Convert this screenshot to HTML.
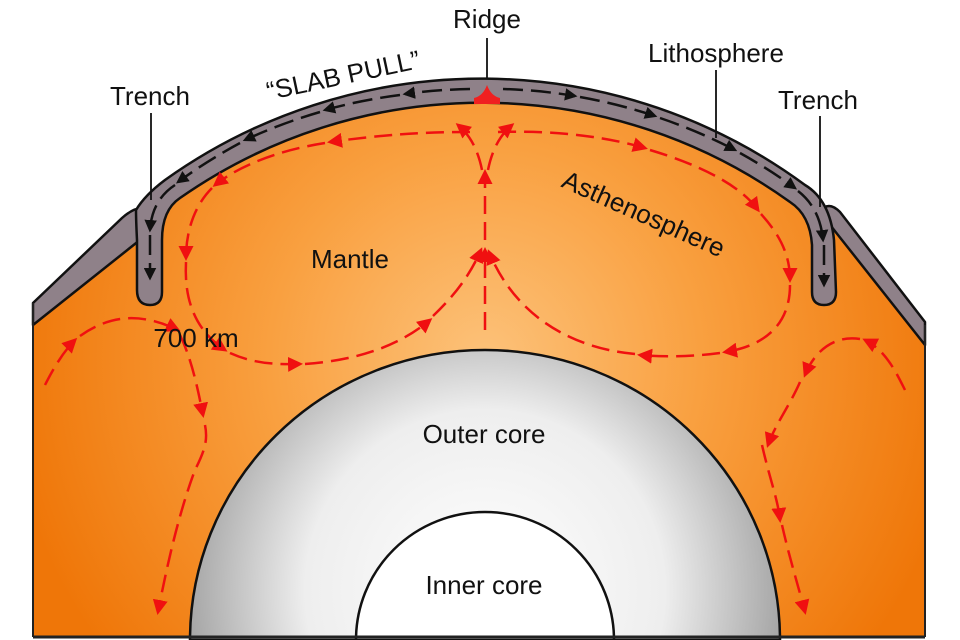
<!DOCTYPE html>
<html><head><meta charset="utf-8"><style>
html,body{margin:0;padding:0;background:#fff;}
svg{display:block}
text{font-family:"Liberation Sans","DejaVu Sans",sans-serif;fill:#111;}
</style></head><body>
<svg width="960" height="640" viewBox="0 0 960 640" xmlns="http://www.w3.org/2000/svg">
<defs>
<radialGradient id="mant" cx="485" cy="360" r="480" gradientUnits="userSpaceOnUse">
<stop offset="0" stop-color="#fcc27a"/><stop offset="0.45" stop-color="#f9a040"/><stop offset="1" stop-color="#ef7608"/>
</radialGradient>
<radialGradient id="core" cx="485" cy="590" r="300" gradientUnits="userSpaceOnUse">
<stop offset="0" stop-color="#ffffff"/><stop offset="0.6" stop-color="#eeeeee"/><stop offset="1" stop-color="#a4a4a4"/>
</radialGradient>
<marker id="ra" viewBox="0 0 10 10" refX="8" refY="5" markerWidth="6" markerHeight="6" orient="auto"><path d="M0,0L10,5L0,10z" fill="#f01010"/></marker>
<marker id="ka" viewBox="0 0 10 10" refX="8" refY="5" markerWidth="5" markerHeight="5" orient="auto"><path d="M0,0L10,5L0,10z" fill="#111"/></marker>
</defs>
<path d="M33,305 L135,212 L150,205 A545,545 0 0 1 820,202 L925,325 L925,637 L33,637 Z" fill="url(#mant)"/>
<path d="M33,303 L122,218 Q140,202 152,212 L150,232 L33,325 Z" fill="#8f8189" stroke="#111" stroke-width="2.5" stroke-linejoin="round"/>
<path d="M820,212 Q828,200 840,212 L925,322 L925,345 L838,235 Z" fill="#8f8189" stroke="#111" stroke-width="2.5" stroke-linejoin="round"/>
<path d="M136,210 Q145,195 165,180 A545,545 0 0 1 805,185 Q830,200 834,240 L836,292 Q836,305 824,305 Q812,305 812,292 L812,245 Q810,215 790,202 A527,527 0 0 0 180,198 Q162,210 162,240 L162,292 Q162,305 150,305 Q137,305 137,290 L137,240 Q136,220 136,210 Z" fill="#8f8189" stroke="#111" stroke-width="2.5" stroke-linejoin="round"/>
<path d="M474,98 Q483,96 487,85 Q491,96 500,98 L500,104 L474,104 Z" fill="#f02020"/>
<g fill="none" stroke="#111" stroke-width="2.5" stroke-dasharray="20 8">
<path d="M470,89 A536,536 0 0 0 405,94" marker-end="url(#ka)"/>
<path d="M400,95 A536,536 0 0 0 325,110" marker-end="url(#ka)"/>
<path d="M320,112 A536,536 0 0 0 245,140" marker-end="url(#ka)"/>
<path d="M240,143 A536,536 0 0 0 178,182" marker-end="url(#ka)"/>
<path d="M175,185 Q152,200 150,230" marker-end="url(#ka)"/>
<path d="M150,235 L150,278" marker-end="url(#ka)"/>
<path d="M503,89 A536,536 0 0 1 575,96" marker-end="url(#ka)"/>
<path d="M580,97 A536,536 0 0 1 655,116" marker-end="url(#ka)"/>
<path d="M660,118 A536,536 0 0 1 735,150" marker-end="url(#ka)"/>
<path d="M740,153 A536,536 0 0 1 795,188" marker-end="url(#ka)"/>
<path d="M798,191 Q820,208 823,240" marker-end="url(#ka)"/>
<path d="M824,245 L824,285" marker-end="url(#ka)"/>
</g>
<path d="M190,640 A295,290 0 0 1 780,640 Z" fill="url(#core)" stroke="#111" stroke-width="2.5"/>
<path d="M356,640 A129,128 0 0 1 614,640 Z" fill="#fff" stroke="#111" stroke-width="2.5"/>
<line x1="33" y1="637" x2="925" y2="637" stroke="#222" stroke-width="3"/>
<line x1="33" y1="303" x2="33" y2="637" stroke="#222" stroke-width="2"/>
<line x1="925" y1="325" x2="925" y2="637" stroke="#222" stroke-width="2"/>
<g fill="none" stroke="#f01010" stroke-width="2.5" stroke-dasharray="18 8">
<path d="M470,132 C420,132 380,135 330,142" marker-end="url(#ra)"/>
<path d="M325,143 C280,150 240,165 215,185" marker-end="url(#ra)"/>
<path d="M212,188 C195,205 186,230 186,258" marker-end="url(#ra)"/>
<path d="M186,262 C184,300 195,330 225,350" marker-end="url(#ra)"/>
<path d="M230,353 C250,362 270,365 300,364" marker-end="url(#ra)"/>
<path d="M305,364 C360,360 400,345 430,320" marker-end="url(#ra)"/>
<path d="M433,316 C455,295 470,275 481,250" marker-end="url(#ra)"/>
<path d="M485,330 L485,250" marker-end="url(#ra)"/>
<path d="M485,240 L485,172" marker-end="url(#ra)"/>
<path d="M482,170 C478,150 470,135 458,125" marker-end="url(#ra)"/>
<path d="M488,170 C492,150 500,135 512,125" marker-end="url(#ra)"/>
<path d="M498,132 C560,130 610,138 645,148" marker-end="url(#ra)"/>
<path d="M650,150 C700,165 740,185 758,210" marker-end="url(#ra)"/>
<path d="M761,214 C780,235 790,255 790,280" marker-end="url(#ra)"/>
<path d="M790,285 C790,320 770,345 725,352" marker-end="url(#ra)"/>
<path d="M720,353 C690,357 660,357 640,355" marker-end="url(#ra)"/>
<path d="M635,354 C570,348 515,315 489,252" marker-end="url(#ra)"/>
<path d="M45,385 C55,365 65,350 75,340" marker-end="url(#ra)"/>
<path d="M80,336 C110,315 140,312 178,330" marker-end="url(#ra)"/>
<path d="M180,335 C192,360 198,390 203,415" marker-end="url(#ra)"/>
<path d="M205,425 C208,440 205,450 195,470 C180,510 168,560 158,612" marker-end="url(#ra)"/>
<path d="M905,390 C895,370 885,350 865,340" marker-end="url(#ra)"/>
<path d="M860,339 C835,335 815,350 805,375" marker-end="url(#ra)"/>
<path d="M800,382 C790,405 775,425 768,445" marker-end="url(#ra)"/>
<path d="M762,445 C770,480 778,500 780,520" marker-end="url(#ra)"/>
<path d="M782,525 C790,560 798,585 805,612" marker-end="url(#ra)"/>
</g>
<g stroke="#111" stroke-width="1.8">
<line x1="487" y1="38" x2="487" y2="78"/>
<line x1="151" y1="113" x2="151" y2="200"/>
<line x1="716" y1="70" x2="716" y2="138"/>
<line x1="820" y1="116" x2="820" y2="207"/>
</g>
<g font-size="26">
<text x="487" y="28" text-anchor="middle">Ridge</text>
<text x="150" y="105" text-anchor="middle">Trench</text>
<text x="716" y="62" text-anchor="middle">Lithosphere</text>
<text x="818" y="109" text-anchor="middle">Trench</text>
<text x="345" y="84" text-anchor="middle" transform="rotate(-12 345 84)">“SLAB PULL”</text>
<text x="640" y="222" text-anchor="middle" transform="rotate(24 640 222)">Asthenosphere</text>
<text x="350" y="268" text-anchor="middle">Mantle</text>
<text x="196" y="347" text-anchor="middle">700 km</text>
<text x="484" y="443" text-anchor="middle">Outer core</text>
<text x="484" y="594" text-anchor="middle">Inner core</text>
</g>
</svg>
</body></html>
